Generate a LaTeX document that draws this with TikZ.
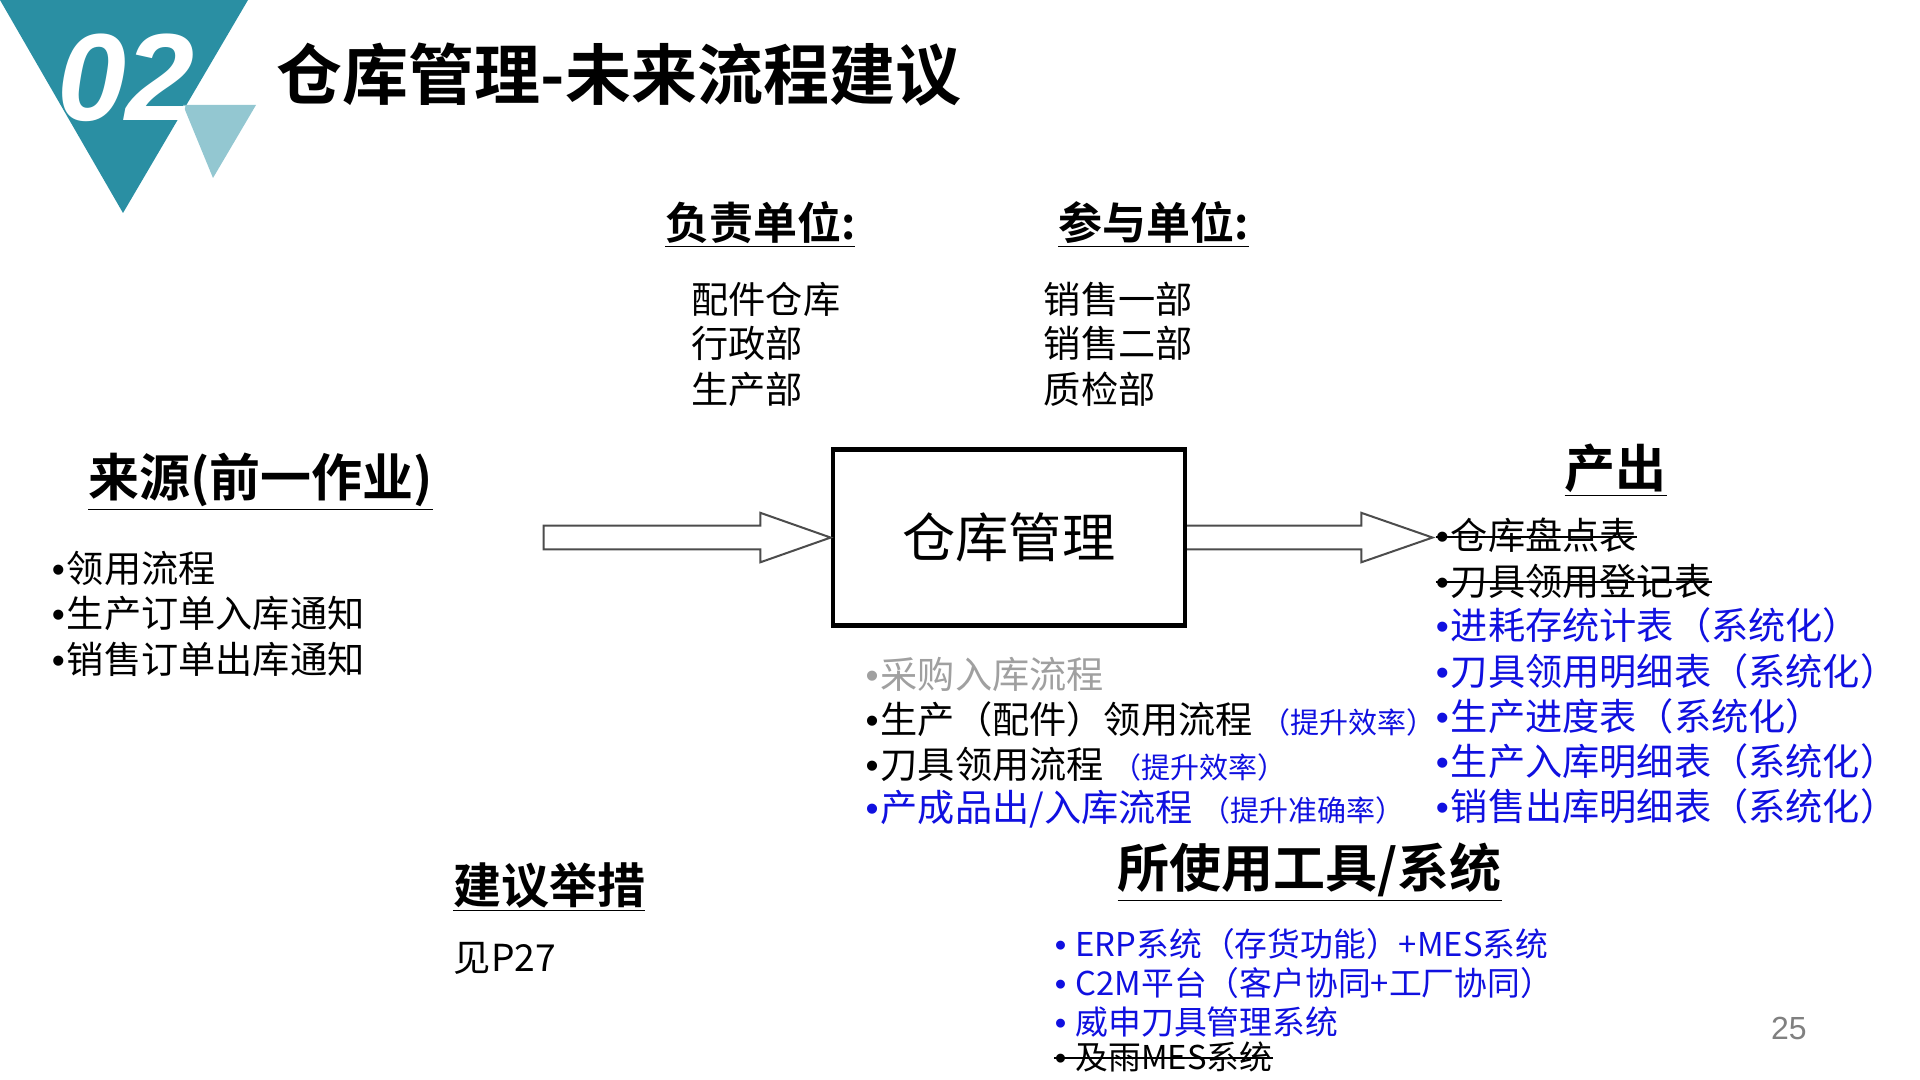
\documentclass[tikz,border=0pt]{standalone}
\usepackage{fontspec}
\setmainfont{Noto Sans CJK SC}[BoldFont={Noto Sans CJK SC Bold}]
\newfontfamily\latinf{Liberation Sans}
\newcommand{\bu}{{\latinf •}\kern1pt}
\definecolor{teal1}{HTML}{2A8FA3}
\definecolor{teal2}{HTML}{93C7D1}
\definecolor{bl}{HTML}{1010E0}
\definecolor{gr}{HTML}{A0A0A0}
\begin{document}
\begin{tikzpicture}[x=0.5pt,y=-0.5pt,
  hd/.style={font=\fontsize{22}{26}\bfseries\selectfont,inner sep=0pt},
  it/.style={anchor=west,inner sep=0pt,font=\fontsize{18.6}{22}\selectfont},
  ot/.style={anchor=west,inner sep=0pt,font=\fontsize{18.6}{22}\selectfont},
  tl/.style={anchor=west,inner sep=0pt,font=\fontsize{16.4}{19}\selectfont,text=bl},
  sk/.style={line width=1pt},
  ar/.style={draw=black!70,line width=1pt,fill=white}]
\newcommand{\sm}{\fontsize{14.5}{17}\selectfont}
\useasboundingbox (0,0) rectangle (1920,1080);
\fill[teal1] (0,0) -- (248,0) -- (123,213) -- cycle;
\fill[teal2] (183,105) -- (256,105) -- (213,178) -- cycle;
\node[text=white,font=\latinf\fontsize{62}{62}\bfseries\itshape\selectfont] (num) at (126,78) {02};
\begin{scope}[xshift=0pt,yshift=1pt,scale=0.99]
\node[anchor=west,inner sep=0pt,font=\fontsize{33}{38}\bfseries\selectfont] (title) at (279,77) {仓库管理-未来流程建议};
% headers
\node[hd] (fz) at (768,229) {\underline{负责单位:}};
\node[hd] (cy) at (1165,229) {\underline{参与单位:}};
\node[it] (f1) at (698,304) {配件仓库};
\node[it] (f2) at (698,349) {行政部};
\node[it] (f3) at (698,395) {生产部};
\node[it] (c1) at (1054,304) {销售一部};
\node[it] (c2) at (1054,349) {销售二部};
\node[it] (c3) at (1054,395) {质检部};
% source
\node[hd,font=\fontsize{25.5}{30}\bfseries\selectfont] (ly) at (263,489) {\underline{来源(前一作业)}};
\node[it] (l1) at (52,576) {\bu{}领用流程};
\node[it] (l2) at (52,622) {\bu{}生产订单入库通知};
\node[it] (l3) at (52,668) {\bu{}销售订单出库通知};
% box
\node[draw,line width=2.2pt,minimum width=176pt,minimum height=88pt,font=\fontsize{26.6}{30}\selectfont] (box) at (1019,545) {仓库管理};
% arrows
\coordinate (la) at (549,545);
\draw[ar] (la) ++(0,-12) -- (768,533) -- (768,520) -- (box.west) -- (768,570) -- (768,557) -- (549,557) -- cycle;
\draw[ar] (box.east) ++(0,-12) -- (1375,533) -- (1375,520) -- (1447,545) coordinate (ra) -- (1375,570) -- (1375,557) -- (box.east |- 0,557);
% output
\node[hd,font=\fontsize{25.5}{30}\bfseries\selectfont] (cc) at (1632,477) {\underline{产出}};
\node[ot] (o1) at (1450,543) {\bu{}仓库盘点表};
\node[ot] (o2) at (1450,589) {\bu{}刀具领用登记表};
\draw[sk] ([yshift=-0.5pt]o1.west) -- ([yshift=-0.5pt]o1.east);
\draw[sk] ([yshift=-0.5pt]o2.west) -- ([yshift=-0.5pt]o2.east);
\node[ot,text=bl] (o3) at (1450,634) {\bu{}进耗存统计表（系统化）};
\node[ot,text=bl] (o4) at (1450,680) {\bu{}刀具领用明细表（系统化）};
\node[ot,text=bl] (o5) at (1450,726) {\bu{}生产进度表（系统化）};
\node[ot,text=bl] (o6) at (1450,771) {\bu{}生产入库明细表（系统化）};
\node[ot,text=bl] (o7) at (1450,817) {\bu{}销售出库明细表（系统化）};
% middle list
\node[ot,text=gr] (m1) at (874,683) {\bu{}采购入库流程};
\node[ot] (m2) at (874,729) {\bu{}生产（配件）领用流程 {\sm\color{bl}（提升效率）}};
\node[ot] (m3) at (874,774) {\bu{}刀具领用流程 {\sm\color{bl}（提升效率）}};
\node[ot,text=bl] (m4) at (874,819) {\bu{}产成品出/入库流程 {\sm（提升准确率）}};
% tools
\node[hd,font=\fontsize{26}{30}\bfseries\selectfont] (gj) at (1323,883) {\underline{所使用工具/系统}};
\node[tl] (t1) at (1065,956) {\bu\ ERP系统（存货功能）+MES系统};
\node[tl] (t2) at (1065,995) {\bu\ C2M平台（客户协同+工厂协同）};
\node[tl] (t3) at (1065,1034) {\bu\ 威申刀具管理系统};
\node[tl,text=black] (t4) at (1065,1070) {\bu\ 及雨MES系统};
\draw[sk] ([yshift=-0.5pt]t4.west) -- ([yshift=-0.5pt]t4.east);
% suggestion
\node[hd,font=\fontsize{24}{28}\bfseries\selectfont] (jy) at (555,898) {\underline{建议举措}};
\node[it] (p27) at (458,970) {见P27};
\node[text=gray,font=\latinf\fontsize{16}{18}\selectfont] (pg) at (1807,1041) {25};
\end{scope}
\end{tikzpicture}
\end{document}
